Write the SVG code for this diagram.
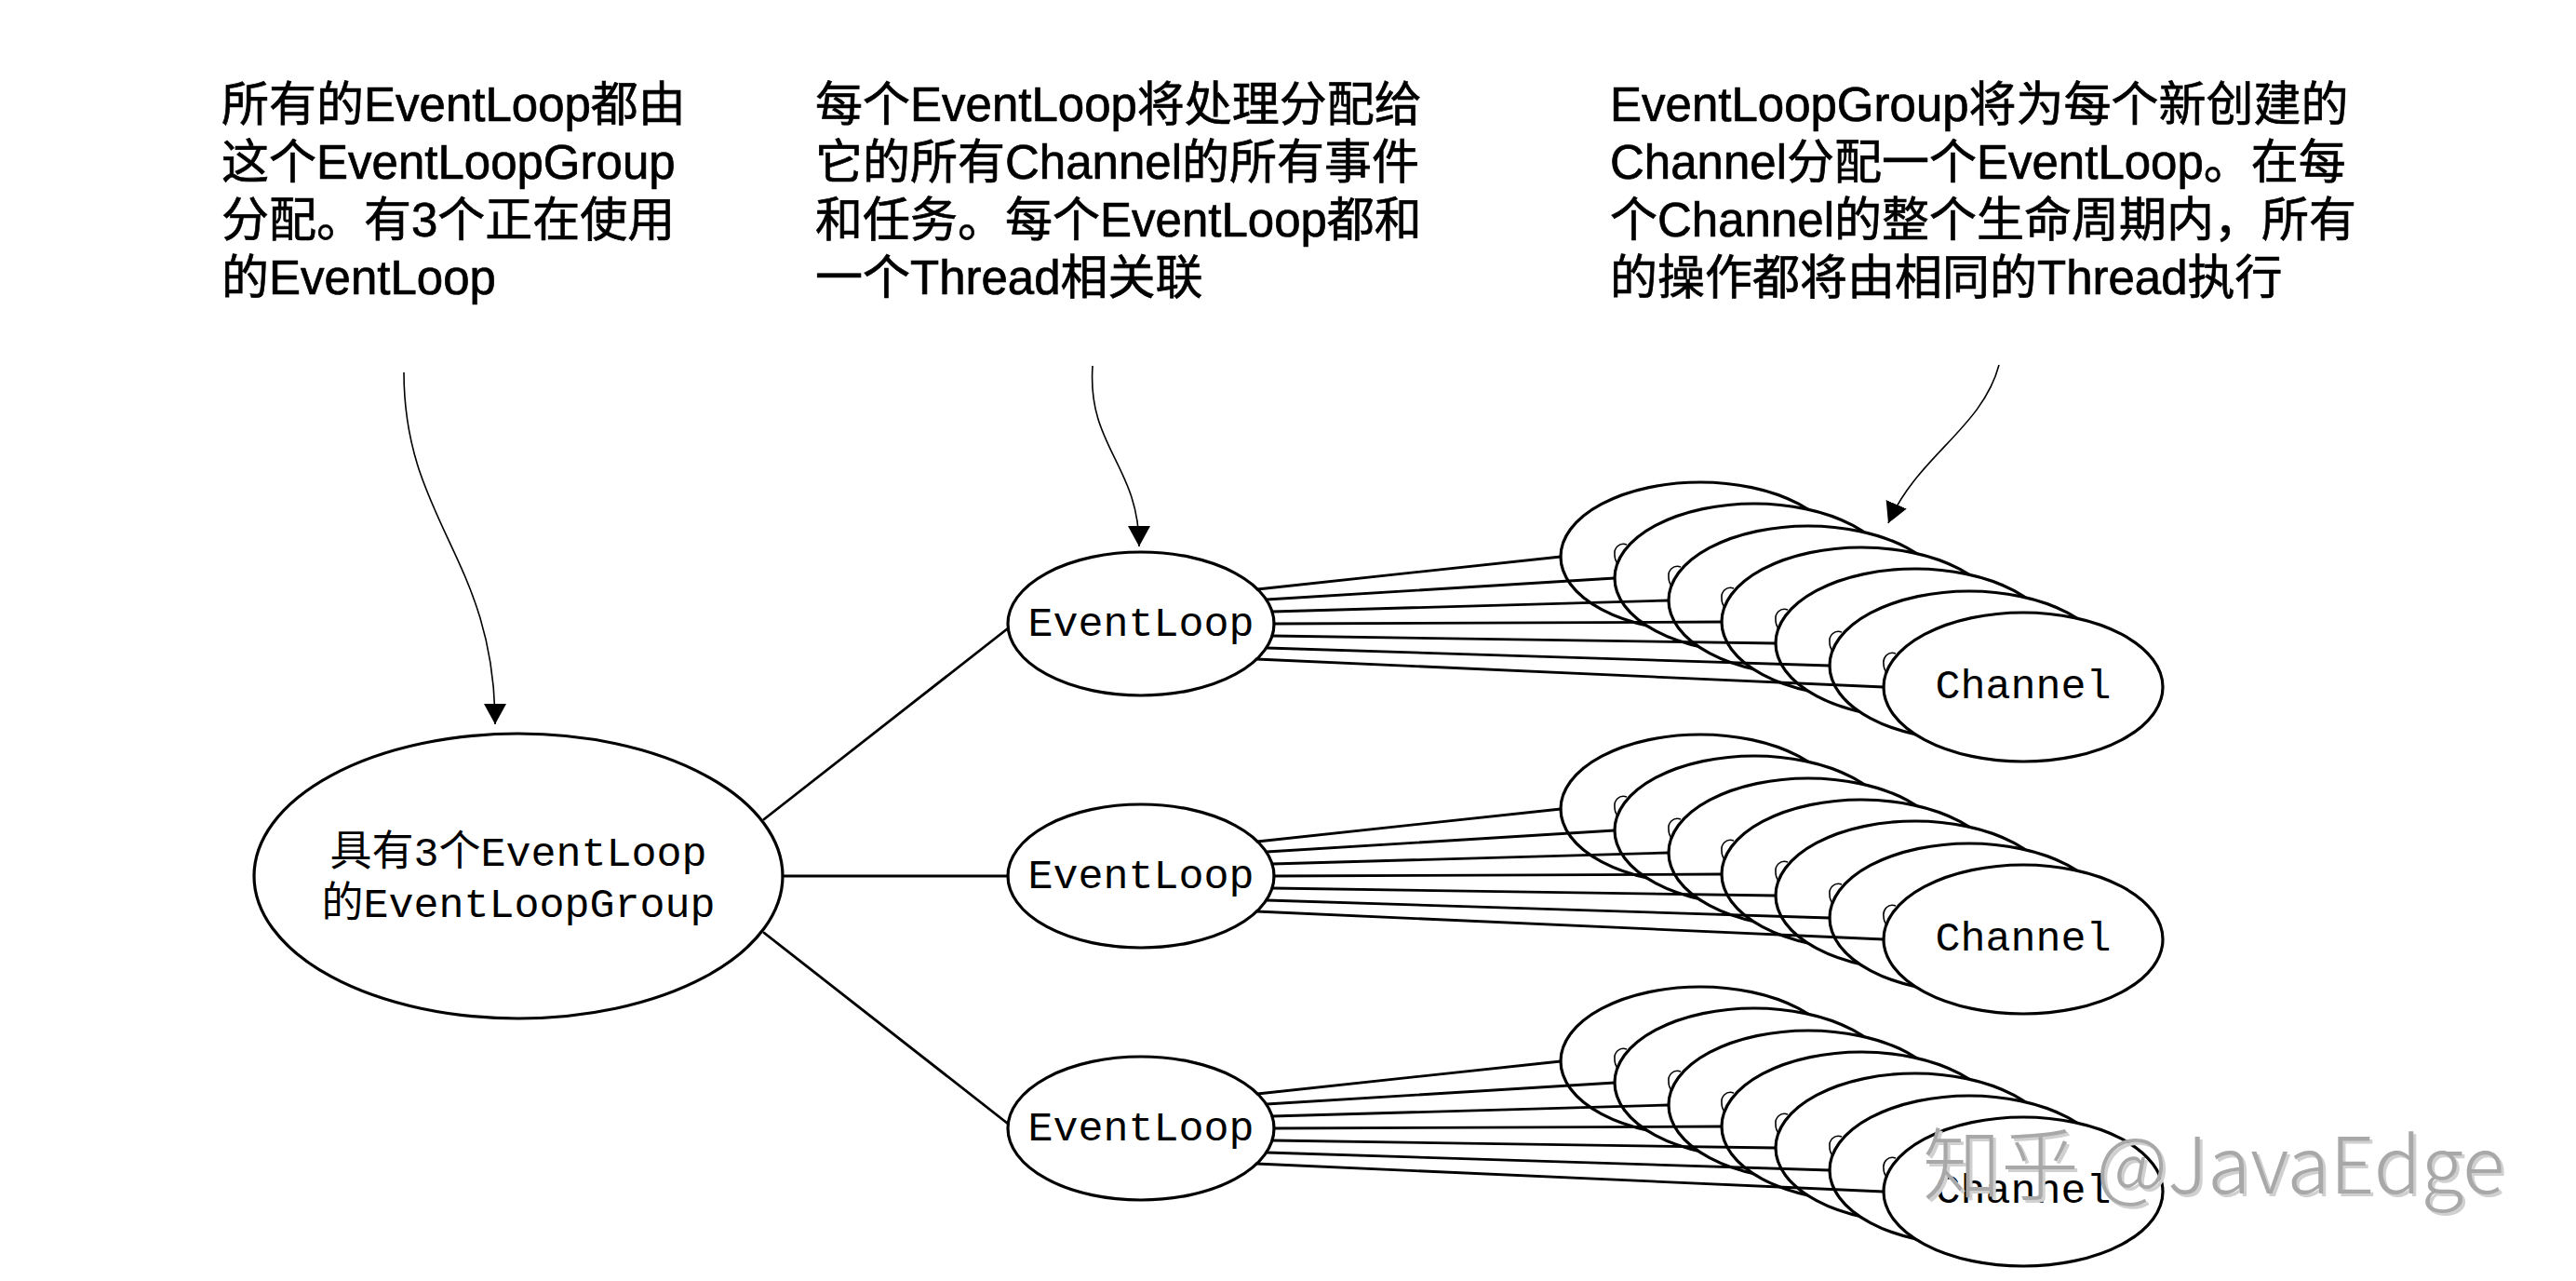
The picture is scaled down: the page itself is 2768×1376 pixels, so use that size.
<svg xmlns="http://www.w3.org/2000/svg" xmlns:xlink="http://www.w3.org/1999/xlink" width="2768" height="1376" viewBox="0 0 2768 1376">
<style>
.bg{fill:#ffffff}
.note{font-family:"Liberation Sans","Noto Sans CJK SC",Arial,sans-serif;font-size:51px;fill:#000;stroke:#000;stroke-width:0.7}
.node{fill:#ffffff;stroke:#000;stroke-width:3.2}
.lbl{font-family:"Liberation Mono","Noto Sans CJK SC",monospace;font-size:45px;fill:#000;text-anchor:middle}
.conn{stroke:#000;stroke-width:2.8;fill:none;stroke-linecap:round}
.ann{stroke:#000;stroke-width:1.6;fill:none}
.peek{stroke:#000;stroke-width:1.6;fill:none}
.wm{font-family:"Noto Sans CJK SC","Liberation Sans",sans-serif;font-size:84px;font-weight:300;fill:#a8a8a8}
</style>
<defs>
<marker id="ah" markerUnits="userSpaceOnUse" markerWidth="22" markerHeight="24" refX="22" refY="12" orient="auto">
<path d="M0,0 L22,12 L0,24 z" fill="#000"/>
</marker>
<path id="peekC" class="peek" d="M-137,-36 C-145,-39 -151,-32 -150,-25 C-150,-21 -148,-17 -146,-15"/>
<filter id="wmShadow" x="-5%" y="-20%" width="110%" height="140%">
<feDropShadow dx="3" dy="3" stdDeviation="0.5" flood-color="#d0d0d0" flood-opacity="1"/>
</filter>
</defs>
<rect class="bg" x="0" y="0" width="2768" height="1376"/>

<g id="notes">
<text class="note" x="238" y="130">所有的EventLoop都由</text>
<text class="note" x="238" y="192">这个EventLoopGroup</text>
<text class="note" x="238" y="254">分配。有3个正在使用</text>
<text class="note" x="238" y="316">的EventLoop</text>

<text class="note" x="876" y="130">每个EventLoop将处理分配给</text>
<text class="note" x="876" y="192">它的所有Channel的所有事件</text>
<text class="note" x="876" y="254">和任务。每个EventLoop都和</text>
<text class="note" x="876" y="316">一个Thread相关联</text>

<text class="note" x="1730" y="130">EventLoopGroup将为每个新创建的</text>
<text class="note" x="1730" y="192">Channel分配一个EventLoop。在每</text>
<text class="note" x="1730" y="254">个Channel的整个生命周期内，所有</text>
<text class="note" x="1730" y="316">的操作都将由相同的Thread执行</text>
</g>

<g id="group-node">
<ellipse class="node" cx="557" cy="941" rx="284" ry="153"/>
<text class="lbl" x="557" y="930">具有3个EventLoop</text>
<text class="lbl" x="557" y="985">的EventLoopGroup</text>
</g>

<g id="eventloop-1">
<ellipse class="node" cx="1226" cy="670" rx="143" ry="77"/>
<text class="lbl" x="1226" y="683">EventLoop</text>
</g>
<g id="eventloop-2">
<ellipse class="node" cx="1226" cy="941" rx="143" ry="77"/>
<text class="lbl" x="1226" y="954">EventLoop</text>
</g>
<g id="eventloop-3">
<ellipse class="node" cx="1226" cy="1212" rx="143" ry="77"/>
<text class="lbl" x="1226" y="1225">EventLoop</text>
</g>

<g id="channels-1">
<g id="ch-1-1"><ellipse class="node" cx="1827" cy="598" rx="150" ry="80"/></g>
<g id="ch-1-2"><ellipse class="node" cx="1885" cy="621" rx="150" ry="80"/><use xlink:href="#peekC" x="1885" y="621"/></g>
<g id="ch-1-3"><ellipse class="node" cx="1943" cy="645" rx="150" ry="80"/><use xlink:href="#peekC" x="1943" y="645"/></g>
<g id="ch-1-4"><ellipse class="node" cx="2000" cy="668" rx="150" ry="80"/><use xlink:href="#peekC" x="2000" y="668"/></g>
<g id="ch-1-5"><ellipse class="node" cx="2058" cy="691" rx="150" ry="80"/><use xlink:href="#peekC" x="2058" y="691"/></g>
<g id="ch-1-6"><ellipse class="node" cx="2116" cy="715" rx="150" ry="80"/><use xlink:href="#peekC" x="2116" y="715"/></g>
<g id="ch-1-7"><ellipse class="node" cx="2174" cy="738" rx="150" ry="80"/><use xlink:href="#peekC" x="2174" y="738"/><text class="lbl" x="2174" y="750">Channel</text></g>
</g>

<g id="channels-2">
<g id="ch-2-1"><ellipse class="node" cx="1827" cy="869" rx="150" ry="80"/></g>
<g id="ch-2-2"><ellipse class="node" cx="1885" cy="892" rx="150" ry="80"/><use xlink:href="#peekC" x="1885" y="892"/></g>
<g id="ch-2-3"><ellipse class="node" cx="1943" cy="916" rx="150" ry="80"/><use xlink:href="#peekC" x="1943" y="916"/></g>
<g id="ch-2-4"><ellipse class="node" cx="2000" cy="939" rx="150" ry="80"/><use xlink:href="#peekC" x="2000" y="939"/></g>
<g id="ch-2-5"><ellipse class="node" cx="2058" cy="962" rx="150" ry="80"/><use xlink:href="#peekC" x="2058" y="962"/></g>
<g id="ch-2-6"><ellipse class="node" cx="2116" cy="986" rx="150" ry="80"/><use xlink:href="#peekC" x="2116" y="986"/></g>
<g id="ch-2-7"><ellipse class="node" cx="2174" cy="1009" rx="150" ry="80"/><use xlink:href="#peekC" x="2174" y="1009"/><text class="lbl" x="2174" y="1021">Channel</text></g>
</g>

<g id="channels-3">
<g id="ch-3-1"><ellipse class="node" cx="1827" cy="1140" rx="150" ry="80"/></g>
<g id="ch-3-2"><ellipse class="node" cx="1885" cy="1163" rx="150" ry="80"/><use xlink:href="#peekC" x="1885" y="1163"/></g>
<g id="ch-3-3"><ellipse class="node" cx="1943" cy="1187" rx="150" ry="80"/><use xlink:href="#peekC" x="1943" y="1187"/></g>
<g id="ch-3-4"><ellipse class="node" cx="2000" cy="1210" rx="150" ry="80"/><use xlink:href="#peekC" x="2000" y="1210"/></g>
<g id="ch-3-5"><ellipse class="node" cx="2058" cy="1233" rx="150" ry="80"/><use xlink:href="#peekC" x="2058" y="1233"/></g>
<g id="ch-3-6"><ellipse class="node" cx="2116" cy="1257" rx="150" ry="80"/><use xlink:href="#peekC" x="2116" y="1257"/></g>
<g id="ch-3-7"><ellipse class="node" cx="2174" cy="1280" rx="150" ry="80"/><use xlink:href="#peekC" x="2174" y="1280"/><text class="lbl" x="2174" y="1292">Channel</text></g>
</g>

<g id="connectors">
<line class="conn" x1="821" y1="880" x2="1083" y2="675"/>
<line class="conn" x1="841" y1="941" x2="1083" y2="941"/>
<line class="conn" x1="821" y1="1002" x2="1083" y2="1207"/>

<line class="conn" x1="1351" y1="633" x2="1677" y2="598"/>
<line class="conn" x1="1361" y1="644" x2="1735" y2="621"/>
<line class="conn" x1="1367" y1="657" x2="1793" y2="645"/>
<line class="conn" x1="1369" y1="670" x2="1850" y2="668"/>
<line class="conn" x1="1367" y1="683" x2="1908" y2="691"/>
<line class="conn" x1="1361" y1="696" x2="1966" y2="715"/>
<line class="conn" x1="1350" y1="708" x2="2024" y2="738"/>

<line class="conn" x1="1351" y1="904" x2="1677" y2="869"/>
<line class="conn" x1="1361" y1="915" x2="1735" y2="892"/>
<line class="conn" x1="1367" y1="928" x2="1793" y2="916"/>
<line class="conn" x1="1369" y1="941" x2="1850" y2="939"/>
<line class="conn" x1="1367" y1="954" x2="1908" y2="962"/>
<line class="conn" x1="1361" y1="967" x2="1966" y2="986"/>
<line class="conn" x1="1350" y1="979" x2="2024" y2="1009"/>

<line class="conn" x1="1351" y1="1175" x2="1677" y2="1140"/>
<line class="conn" x1="1361" y1="1186" x2="1735" y2="1163"/>
<line class="conn" x1="1367" y1="1199" x2="1793" y2="1187"/>
<line class="conn" x1="1369" y1="1212" x2="1850" y2="1210"/>
<line class="conn" x1="1367" y1="1225" x2="1908" y2="1233"/>
<line class="conn" x1="1361" y1="1238" x2="1966" y2="1257"/>
<line class="conn" x1="1350" y1="1250" x2="2024" y2="1280"/>

<path class="ann" d="M434,400 C434,560 532,600 532,778" marker-end="url(#ah)"/>
<path class="ann" d="M1174,393 C1168,480 1224,500 1224,587" marker-end="url(#ah)"/>
<path class="ann" d="M2148,392 C2130,460 2060,490 2029,562" marker-end="url(#ah)"/>
</g>

<g id="watermark">
<text class="wm" x="2066" y="1282" filter="url(#wmShadow)">知乎 @JavaEdge</text>
</g>
</svg>
